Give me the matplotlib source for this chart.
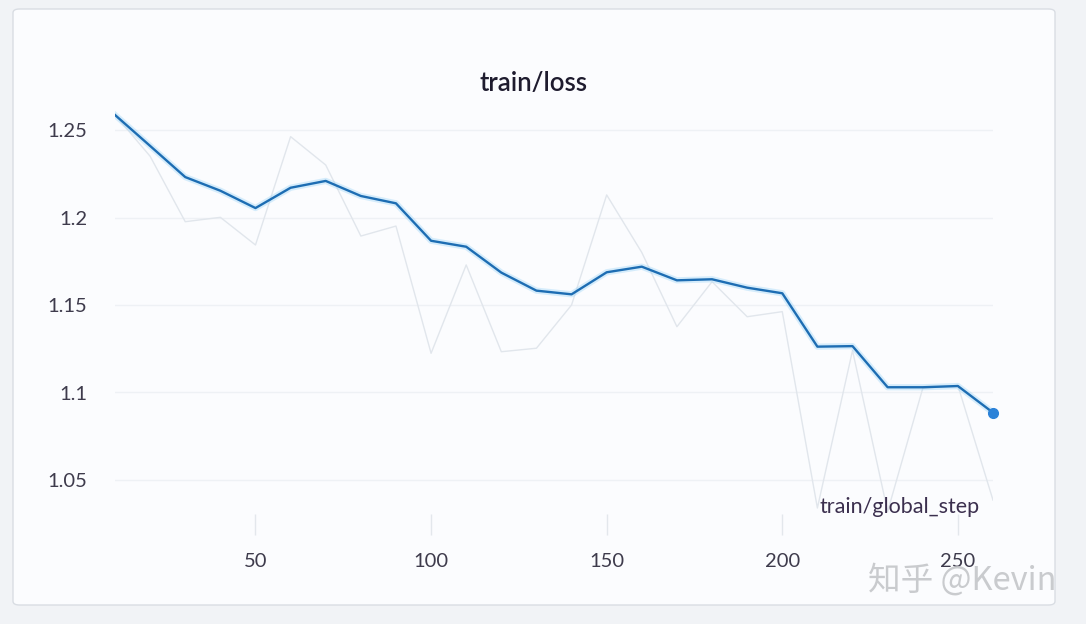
import matplotlib
matplotlib.use("Agg")
import matplotlib.pyplot as plt
from matplotlib.patches import FancyBboxPatch

steps = [10, 20, 30, 40, 50, 60, 70, 80, 90, 100, 110, 120, 130,
         140, 150, 160, 170, 180, 190, 200, 210, 220, 230, 240, 250, 260]
smoothed = [1.2586, 1.2409, 1.2231, 1.2153, 1.2054, 1.2170, 1.2209, 1.2123,
            1.2081, 1.1867, 1.1833, 1.1685, 1.1582, 1.1561, 1.1687, 1.1719,
            1.1641, 1.1647, 1.1599, 1.1567, 1.1262, 1.1265, 1.1030, 1.1030,
            1.1037, 1.0885]
raw = [1.2586, 1.2350, 1.1976, 1.2001, 1.1843, 1.2462, 1.2300, 1.1894,
       1.1951, 1.1224, 1.1729, 1.1233, 1.1253, 1.1500, 1.2129, 1.1800,
       1.1376, 1.1633, 1.1433, 1.1462, 1.0340, 1.1240, 1.0320, 1.1024,
       1.1040, 1.0385]
y_ticks = [1.05, 1.1, 1.15, 1.2, 1.25]
y_tick_labels = ["1.05", "1.1", "1.15", "1.2", "1.25"]
x_ticks = [50, 100, 150, 200, 250]
x_tick_labels = ["50", "100", "150", "200", "250"]
title = "train/loss"
x_label = "train/global_step"
watermark = "知乎 @Kevin"

W, H = 1086, 624
fig = plt.figure(figsize=(W / 100, H / 100), dpi=100)
fig.patch.set_facecolor("#f1f3f6")

# card
card = FancyBboxPatch((13 / W, 1 - 605 / H), (1055 - 13) / W, (605 - 9) / H,
                      boxstyle="round,pad=0,rounding_size=0.006",
                      transform=fig.transFigure, facecolor="#fbfcfe",
                      edgecolor="#d9dde3", linewidth=1.0, zorder=-10)
fig.patches.append(card)

ax_left, ax_right = 115, 993
ax_top, ax_bot = 100, 535
ax = fig.add_axes([ax_left / W, 1 - ax_bot / H, (ax_right - ax_left) / W,
                   (ax_bot - ax_top) / H])
ax.set_facecolor("none")
ax.set_zorder(1)

# y mapping: 1.25 at y=130, 1.05 at y=480
ppu = (480 - 130) / 0.2
ytop = 1.25 + (130 - ax_top) / ppu
ybot = 1.25 - (ax_bot - 130) / ppu
ax.set_ylim(ybot, ytop)
ax.set_xlim(10, 260)

for s in ax.spines.values():
    s.set_visible(False)

ax.set_yticks(y_ticks)
ax.set_yticklabels(y_tick_labels)
ax.set_xticks(x_ticks)
ax.set_xticklabels(x_tick_labels)
ax.yaxis.grid(True, color="#eef1f5", linewidth=1.0)
ax.set_axisbelow(True)
ax.tick_params(axis="y", length=0, pad=20, labelsize=14.5, labelcolor="#3e3b4c")
ax.tick_params(axis="x", direction="in", length=15, width=1.0,
               color="#e3e7ec", pad=13, labelsize=14.5, labelcolor="#3e3b4c")
for lab in ax.get_xticklabels() + ax.get_yticklabels():
    lab.set_fontfamily("Lato")

# raw line (faint)
ax.plot(steps, raw, color="#e1e6ec", linewidth=1.0, zorder=2)
# glow + smoothed line
ax.plot(steps, smoothed, color="#8fd0f8", linewidth=4.5, alpha=0.35, zorder=3)
ax.plot(steps, smoothed, color="#1d6db3", linewidth=1.7, zorder=4)
ax.plot(steps[-1:], smoothed[-1:], "o", color="#2b82d8", markersize=7,
        zorder=5, clip_on=False)

fig.text(534 / W, 1 - 83 / H, title, ha="center", va="center",
         fontsize=18.5, fontfamily="Lato", fontweight="semibold", color="#1e1b2e")
fig.text(980 / W, 1 - 507 / H, x_label, ha="right", va="center",
         fontsize=15.5, fontfamily="Lato", color="#3b2f4e", zorder=6)
fig.text(1056 / W, 1 - 580 / H, watermark, ha="right", va="center",
         fontsize=23.5, family=["Noto Sans CJK SC", "DejaVu Sans"],
         color="#c4c6c9", alpha=0.9, zorder=6)

fig.savefig("out.png", dpi=100, facecolor=fig.get_facecolor())
